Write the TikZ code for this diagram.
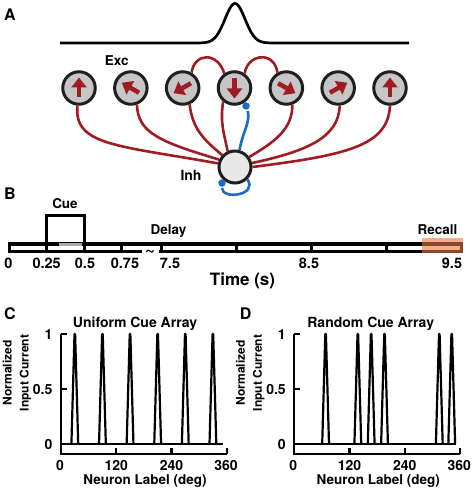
\documentclass[tikz,border=0pt]{standalone}
\usepackage{fontspec}
\setmainfont{TeX Gyre Heros}
\usetikzlibrary{arrows.meta,calc}
\definecolor{excred}{RGB}{160,28,34}
\definecolor{inhblue}{RGB}{28,108,196}
\definecolor{cellgray}{RGB}{198,198,198}
\definecolor{inhgray}{RGB}{232,232,232}
\definecolor{recallorange}{RGB}{236,118,66}
\tikzset{every picture/.style={line width=2.5pt}}
\tikzset{
  exccell/.style={circle, draw=black!88, fill=cellgray, line width=3pt, minimum size=32.5pt, inner sep=0pt},
  inhcell/.style={circle, draw=black!88, fill=inhgray, line width=3pt, minimum size=32pt, inner sep=0pt},
  excwire/.style={draw=excred, line width=2.6pt},
  inhwire/.style={draw=inhblue, line width=2.6pt},
  prefarrow/.style={excred, line width=4.5pt, -{Triangle[length=10pt,width=15pt]}},
  bdot/.style={circle, fill=inhblue, inner sep=0pt, minimum size=7.5pt},
  panel/.style={font=\fontsize{16}{16}\selectfont\bfseries, anchor=base},
  lbl/.style={font=\fontsize{13.5}{14}\selectfont\bfseries, anchor=base},
  ticklbl/.style={font=\fontsize{14.5}{15}\selectfont\bfseries, anchor=base},
  bigtitle/.style={font=\fontsize{17}{18}\selectfont\bfseries, anchor=base},
  bar/.style={line width=3.3pt},
  axis/.style={line width=2.2pt},
  trace/.style={line width=2.2pt, line join=round},
  plottitle/.style={font=\fontsize{14}{15}\selectfont\bfseries, anchor=base},
  axlbl/.style={font=\fontsize{14}{15}\selectfont\bfseries},
  ytitle/.style={font=\fontsize{12}{17}\selectfont\bfseries, align=center, rotate=90}
}
\newcommand{\cueaxes}{%
  \draw[axis] (61,334) -- (61,454) -- (226.7,454);
  \foreach \v in {334,389,444} {\draw[axis] (61,\v) -- (66.5,\v);}
  \foreach \h in {116.2,171.5,226.7} {\draw[axis] (\h,454) -- (\h,447.5);}
  \node[axlbl, anchor=east] (yone) at (57,334.5) {1};
  \node[axlbl, anchor=east] (yhalf) at (57,389.5) {0.5};
  \node[axlbl, anchor=east] (yzero) at (57,444.5) {0};
  \node[axlbl, anchor=base] (xzero) at (60,470) {0};
  \node[axlbl, anchor=base] (xone) at (116.2,470) {120};
  \node[axlbl, anchor=base] (xtwo) at (171.5,470) {240};
  \node[axlbl, anchor=base] (xthree) at (226,470) {360};
  \node[ytitle] (ylab) at (17,373) {Normalized\\Input Current};
  \node[plottitle, font=\fontsize{13.5}{14}\selectfont\bfseries] (xlab) at (145,484) {Neuron Label (deg)};
  \draw[trace] (65,444) -- (222.5,444);
}
\newcommand{\cuepeak}[1]{%
  \draw[trace] ({61+#1*0.4603-3.4},444) -- ({61+#1*0.4603-0.3},334)
    -- ({61+#1*0.4603+0.3},334) -- ({61+#1*0.4603+3.4},444);
}

\begin{document}
\begin{tikzpicture}[x=1pt, y=-1pt]
  \useasboundingbox (0,0) rectangle (474,489);

  % panel A: bump input and ring network
  \node[panel] (la) at (10,20.7) {A};
  \draw[line width=2.7pt, line join=round] (60,43) -- (195,43)
    -- plot[domain=-40:40, samples=81] ({235+\x},{43-39.5*exp(-(\x/10)*(\x/10)/2)})
    -- (409,43);

  \foreach \i/\a in {1/90,2/150,3/210,4/270,5/330,6/30,7/90} {
    \node[exccell] (e\i) at ({79+51.83*(\i-1)},88) {};
    \draw[prefarrow] ($(e\i)+(\a+180:9.5pt)$) -- ($(e\i)+(\a:10.5pt)$);
  }
  \node[lbl] (exc) at (116.7,65.7) {Exc};
  \node[inhcell] (inh) at (235,167) {};
  \node[lbl, font=\fontsize{14}{14}\selectfont\bfseries] (inhlbl) at (191,180) {Inh};

  % excitatory wires
  \draw[excwire] (e1.-95) .. controls +(-4,40) and +(-100,-18) .. (inh.168);
  \draw[excwire] (e2.-70) .. controls +(1,28) and +(-60,-18) .. (inh.155);
  \draw[excwire] (e3.-67) .. controls +(3,25) and +(-18,-15) .. (inh.137);
  \draw[excwire] (e4.-130) .. controls +(-3,22) and +(-4,-20) .. (inh.115);
  \draw[excwire] (e5.-70) .. controls +(0,25) and +(25,-15) .. (inh.35);
  \draw[excwire] (e6.-85) .. controls +(-1,32) and +(55,-12) .. (inh.13);
  \draw[excwire] (e7.-90) .. controls +(-2,40) and +(95,-12) .. (inh.0);
  \draw[excwire] (e3.60) .. controls +(3,-20) and +(-7,-22) .. (e4.125);
  \draw[excwire] (e4.55) .. controls +(3,-20) and +(-3,-22) .. (e5.120);

  % inhibitory wires
  \node[bdot] (dtop) at (246,106) {};
  \node[bdot] (dself) at (222,183) {};
  \draw[inhwire] (dtop) .. controls +(5,15) and +(3,-18) .. (inh.75);
  \draw[inhwire] (inh.-45) .. controls +(11,16) and +(0,17) .. (dself);

  % panel B: trial timeline
  \node[panel] (lb) at (10,199.5) {B};
  \draw[bar] (9.5,244) rectangle (461.5,251.7);
  \foreach \t in {46.7,84.3,121.2,161.5,236.5,311.5,386.5}
    {\draw[bar, line width=3pt] (\t,244) -- (\t,251.7);}
  \draw[bar, line width=3pt] (46.7,244) |- (84.3,215) -- (84.3,244);
  \draw[gray!65, line width=3pt] (59.3,244) -- (81.5,244);
  \fill[white] (142,249.6) rectangle (159,255);
  \node[font=\fontsize{17}{17}\selectfont\bfseries, inner sep=0pt] (brk) at (150,252.5) {\textasciitilde};
  \fill[recallorange, opacity=0.6] (421.7,238.3) rectangle (463.3,253.3);

  \node[lbl] (cue) at (65,208) {Cue};
  \node[lbl] (delay) at (168.5,234) {Delay};
  \node[lbl] (recall) at (437.5,234) {Recall};
  \foreach \p/\s in {8.5/0,46.7/0.25,85/0.5,125/0.75,170/7.5,309/8.5,452/9.5}
    {\node[ticklbl] at (\p,268) {\s};}
  \node[bigtitle] (time) at (242.5,285) {Time (s)};

  % panel C: uniform cue array
  \node[panel] (lc) at (10,319.3) {C};
  \node[plottitle] (tc) at (135,327.7) {Uniform Cue Array};
  \cueaxes
  \foreach \c in {30,90,...,330} {\cuepeak{\c}}

  % panel D: random cue array
  \node[panel] (ld) at (245.7,319.3) {D};
  \node[plottitle] (td) at (370.7,327.7) {Random Cue Array};
  \begin{scope}[xshift=233.3]
    \cueaxes
    \foreach \c in {68,138,167,196,315,342} {\cuepeak{\c}}
  \end{scope}
\end{tikzpicture}
\end{document}
